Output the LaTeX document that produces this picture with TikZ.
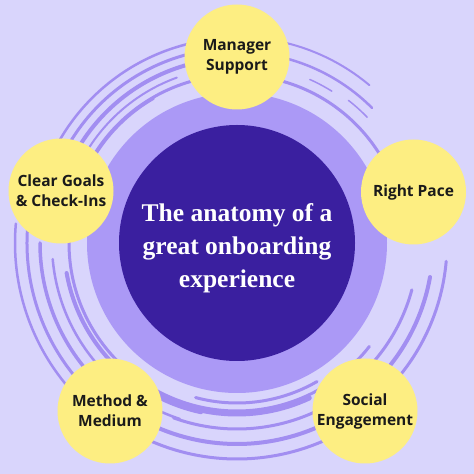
\documentclass[tikz,border=0pt]{standalone}
\usepackage{fontspec}
\newfontfamily\labelfont{Open Sans}
\newfontfamily\titlefont{Liberation Serif}
\definecolor{bgpurple}{HTML}{D9D5FC}
\definecolor{ringpurple}{HTML}{AB99F6}
\definecolor{brushpurple}{HTML}{A28EF1}
\definecolor{darkpurple}{HTML}{3A1F9F}
\definecolor{softyellow}{HTML}{FDEE82}
\definecolor{labeltext}{HTML}{1A1A1A}

\begin{document}
\begin{tikzpicture}[x=1pt,y=1pt,
    topic/.style={circle,fill=softyellow,minimum size=105pt,inner sep=0pt,align=center,
      text=labeltext,font=\labelfont\bfseries\fontsize{15.5}{20}\selectfont},
    brush/.style={draw=brushpurple,line cap=round}]
    \fill[bgpurple] (0,0) rectangle (474,474);
    \useasboundingbox (0,0) rectangle (474,474);
    \coordinate (hub) at (237,231);
    \foreach \a/\b/\r/\w in {95/165/205/2.5, 100/160/195/3, 105/170/185/4, 110/150/176/2, 120/178/167/3,
        78/50/206/2, 75/45/191/2.5, 66/58/179/1.5, 52/44/181/1.5,
        175/235/222/2.5, 170/240/210/3, 180/245/197/3.5, 185/252/185/2.5, 190/258/173/4,
        240/300/216/3, 245/305/201/4, 250/312/186/3, 235/295/171/5, 255/300/160/3,
        355/312/210/3, 350/316/196/4, 345/300/181/3, 2/322/168/3, 20/5/178/1.5} {
      \draw[brush,line width=\w pt] (hub) ++(\a:\r) arc[start angle=\a,end angle=\b,radius=\r];
    }
    \fill[ringpurple] (hub) circle[radius=150];
    \fill[darkpurple] (hub) circle[radius=118];
    \node[text=white,align=center,font=\titlefont\bfseries\fontsize{25.5}{33}\selectfont] (title) at (237,226)
      {The anatomy of a\\great onboarding\\experience};
    \node[topic] (manager) at (237,417) {Manager\\Support};
    \node[topic] (pace) at (413.5,282) {Right Pace};
    \node[topic] (goals) at (61,283) {Clear Goals\\\& Check-Ins};
    \node[topic] (method) at (110,63) {Method \&\\Medium};
    \node[topic] (social) at (365,63) {Social\\Engagement};
\end{tikzpicture}
\end{document}
